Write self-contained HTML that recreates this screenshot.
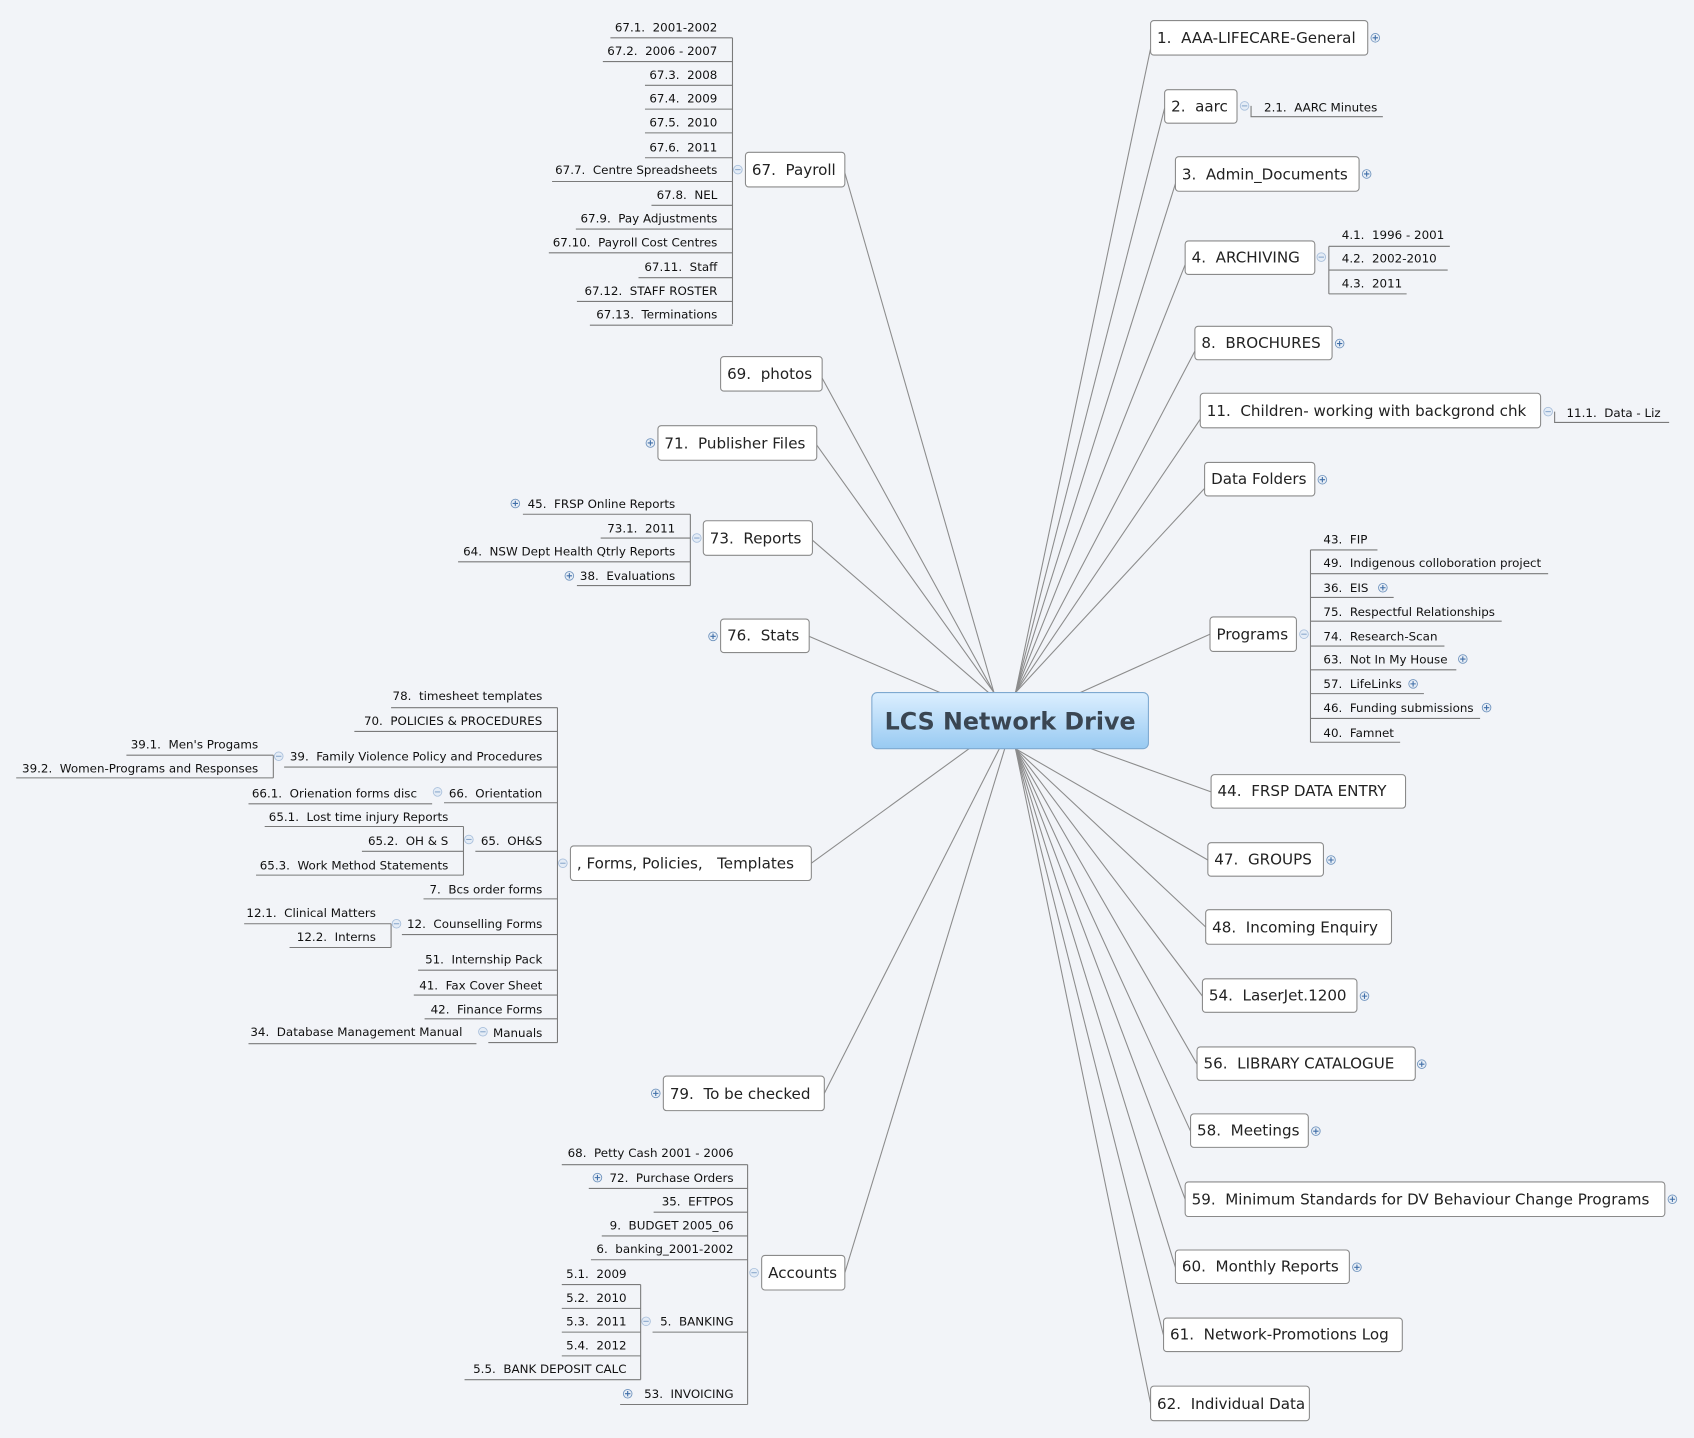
<!DOCTYPE html>
<html><head><meta charset="utf-8"><style>
html,body{margin:0;padding:0;background:#f2f4f8;}
svg{display:block}
text{white-space:pre}
.b{font-family:"DejaVu Sans","Liberation Sans",sans-serif;font-size:14px;fill:#222}
.k{font-family:"DejaVu Sans","Liberation Sans",sans-serif;font-size:11px;fill:#111}
.bx{fill:#fff;stroke:#8a8a8a;stroke-width:1}
.l{stroke:#8c8c8c;stroke-width:1;fill:none}
.u{stroke:#7a7a7a;stroke-width:1;fill:none}
.p circle{fill:#e8eef6;stroke:#6f93bd;stroke-width:.8}
.p path{stroke:#3f6ea8;stroke-width:1}
.m circle{fill:#e4ecf6;stroke:#a8bfdb;stroke-width:.8}
.m path{stroke:#8aa8cc;stroke-width:1}
</style></head><body>
<svg width="1694" height="1438" viewBox="0 0 1568 1331" preserveAspectRatio="none" xmlns="http://www.w3.org/2000/svg" xml:space="preserve">
<defs>
<linearGradient id="g" x1="0" y1="0" x2="0" y2="1"><stop offset="0" stop-color="#dcefff"/><stop offset="1" stop-color="#98caf2"/></linearGradient>
<g id="pl" class="p"><circle r="4"/><path d="M-2.5 0H2.5M0 -2.5V2.5"/></g>
<g id="mi" class="m"><circle r="4"/><path d="M-2.5 0H2.5"/></g>
</defs>
<rect width="1568" height="1331" fill="#f2f4f8"/>
<g class="l">
<path d="M940 641L1065 45"/><path d="M940 641L1078 100"/><path d="M940 641L1088 170"/><path d="M940 641L1097 245"/>
<path d="M940 641L1106 325"/><path d="M940 641L1111 388"/><path d="M940 641L1115 452"/><path d="M1000 641L1120 587"/>
<path d="M1010 693L1121 733"/><path d="M940 693L1118 796"/><path d="M940 693L1116 858"/><path d="M940 693L1113 922"/>
<path d="M940 693L1108 985"/><path d="M940 693L1102 1047"/><path d="M940 693L1097 1110"/><path d="M940 693L1088 1173"/>
<path d="M940 693L1077 1236"/><path d="M940 693L1065 1299"/>
<path d="M920 641L782 160"/><path d="M920 641L761 350"/><path d="M920 641L756 412"/><path d="M915 641L752 500"/>
<path d="M870 641L749 589"/><path d="M897 693L751 799"/><path d="M925 693L763 1012"/><path d="M930 693L782 1178"/>
</g>
<rect x="807" y="641" width="256" height="52" rx="5" fill="url(#g)" stroke="#7ea9d0"/>
<text x="935" y="675" text-anchor="middle" font-family="DejaVu Sans,Liberation Sans,sans-serif" font-weight="bold" font-size="22" fill="#3a4652">LCS Network Drive</text>

<rect class="bx" x="1065" y="19" width="201" height="32" rx="3"/><text class="b" x="1071" y="40">1.  AAA-LIFECARE-General</text><use href="#pl" x="1273" y="35"/>
<rect class="bx" x="1078" y="83" width="67" height="31" rx="3"/><text class="b" x="1084" y="103">2.  aarc</text><use href="#mi" x="1152" y="98"/>
<path class="u" d="M1158 98V108H1280"/><text class="k" x="1170" y="103">2.1.  AARC Minutes</text>
<rect class="bx" x="1088" y="145" width="170" height="32" rx="3"/><text class="b" x="1094" y="166">3.  Admin_Documents</text><use href="#pl" x="1265" y="161"/>
<rect class="bx" x="1097" y="223" width="120" height="31" rx="3"/><text class="b" x="1103" y="243">4.  ARCHIVING</text><use href="#mi" x="1223" y="238"/>
<path class="u" d="M1230 228V272M1230 228H1342M1230 250H1340M1230 272H1302"/>
<text class="k" x="1242" y="221">4.1.  1996 - 2001</text><text class="k" x="1242" y="243">4.2.  2002-2010</text><text class="k" x="1242" y="266">4.3.  2011</text>
<rect class="bx" x="1106" y="302" width="127" height="31" rx="3"/><text class="b" x="1112" y="322">8.  BROCHURES</text><use href="#pl" x="1240" y="318"/>
<rect class="bx" x="1111" y="364" width="315" height="32" rx="3"/><text class="b" x="1117" y="385">11.  Children- working with backgrond chk</text><use href="#mi" x="1433" y="381"/>
<path class="u" d="M1439 381V391H1545"/><text class="k" x="1450" y="386">11.1.  Data - Liz</text>
<rect class="bx" x="1115" y="428" width="102" height="31" rx="3"/><text class="b" x="1121" y="448">Data Folders</text><use href="#pl" x="1224" y="444"/>
<rect class="bx" x="1120" y="571" width="80" height="32" rx="3"/><text class="b" x="1126" y="592">Programs</text><use href="#mi" x="1207" y="587"/>
<path class="u" d="M1213 509V687M1213 509H1275M1213 531H1433M1213 553H1290M1213 575H1390M1213 598H1337M1213 620H1348M1213 642H1318M1213 665H1370M1213 687H1296"/>
<text class="k" x="1225" y="503">43.  FIP</text><text class="k" x="1225" y="525">49.  Indigenous colloboration project</text>
<text class="k" x="1225" y="548">36.  EIS</text><use href="#pl" x="1280" y="544"/>
<text class="k" x="1225" y="570">75.  Respectful Relationships</text><text class="k" x="1225" y="593">74.  Research-Scan</text>
<text class="k" x="1225" y="614">63.  Not In My House</text><use href="#pl" x="1354" y="610"/>
<text class="k" x="1225" y="637">57.  LifeLinks</text><use href="#pl" x="1308" y="633"/>
<text class="k" x="1225" y="659">46.  Funding submissions</text><use href="#pl" x="1376" y="655"/>
<text class="k" x="1225" y="682">40.  Famnet</text>
<rect class="bx" x="1121" y="717" width="180" height="31" rx="3"/><text class="b" x="1127" y="737">44.  FRSP DATA ENTRY</text>
<rect class="bx" x="1118" y="780" width="107" height="31" rx="3"/><text class="b" x="1124" y="800">47.  GROUPS</text><use href="#pl" x="1232" y="796"/>
<rect class="bx" x="1116" y="842" width="172" height="32" rx="3"/><text class="b" x="1122" y="863">48.  Incoming Enquiry</text>
<rect class="bx" x="1113" y="906" width="143" height="31" rx="3"/><text class="b" x="1119" y="926">54.  LaserJet.1200</text><use href="#pl" x="1263" y="922"/>
<rect class="bx" x="1108" y="969" width="202" height="31" rx="3"/><text class="b" x="1114" y="989">56.  LIBRARY CATALOGUE</text><use href="#pl" x="1316" y="985"/>
<rect class="bx" x="1102" y="1031" width="109" height="31" rx="3"/><text class="b" x="1108" y="1051">58.  Meetings</text><use href="#pl" x="1218" y="1047"/>
<rect class="bx" x="1097" y="1094" width="444" height="32" rx="3"/><text class="b" x="1103" y="1115">59.  Minimum Standards for DV Behaviour Change Programs</text><use href="#pl" x="1548" y="1110"/>
<rect class="bx" x="1088" y="1157" width="161" height="31" rx="3"/><text class="b" x="1094" y="1177">60.  Monthly Reports</text><use href="#pl" x="1256" y="1173"/>
<rect class="bx" x="1077" y="1220" width="221" height="31" rx="3"/><text class="b" x="1083" y="1240">61.  Network-Promotions Log</text>
<rect class="bx" x="1065" y="1283" width="147" height="32" rx="3"/><text class="b" x="1071" y="1304">62.  Individual Data</text>

<rect class="bx" x="690" y="141" width="92" height="32" rx="3"/><text class="b" x="696" y="162">67.  Payroll</text><use href="#mi" x="683" y="157"/>
<path class="u" d="M678 35V300M565 35H678M558 57H678M597 79H678M597 101H678M597 123H678M597 146H678M511 168H678M603 190H678M533 212H678M508 234H678M591 257H678M534 279H678M546 301H678"/>
<g class="k" text-anchor="end">
<text x="664" y="29">67.1.  2001-2002</text><text x="664" y="51">67.2.  2006 - 2007</text><text x="664" y="73">67.3.  2008</text>
<text x="664" y="95">67.4.  2009</text><text x="664" y="117">67.5.  2010</text><text x="664" y="140">67.6.  2011</text>
<text x="664" y="161">67.7.  Centre Spreadsheets</text><text x="664" y="184">67.8.  NEL</text><text x="664" y="206">67.9.  Pay Adjustments</text>
<text x="664" y="228">67.10.  Payroll Cost Centres</text><text x="664" y="251">67.11.  Staff</text><text x="664" y="273">67.12.  STAFF ROSTER</text>
<text x="664" y="295">67.13.  Terminations</text>
</g>
<rect class="bx" x="667" y="330" width="94" height="32" rx="3"/><text class="b" x="673" y="351">69.  photos</text>
<rect class="bx" x="609" y="394" width="147" height="32" rx="3"/><text class="b" x="615" y="415">71.  Publisher Files</text><use href="#pl" x="602" y="410"/>
<rect class="bx" x="651" y="482" width="101" height="32" rx="3"/><text class="b" x="657" y="503">73.  Reports</text><use href="#mi" x="645" y="498"/>
<path class="u" d="M639 476V542M484 476H639M556 498H639M424 520H639M534 542H639"/>
<g class="k" text-anchor="end"><text x="625" y="470">45.  FRSP Online Reports</text><text x="625" y="493">73.1.  2011</text>
<text x="625" y="514">64.  NSW Dept Health Qtrly Reports</text><text x="625" y="537">38.  Evaluations</text></g>
<use href="#pl" x="477" y="466"/><use href="#pl" x="527" y="533"/>
<rect class="bx" x="667" y="573" width="82" height="31" rx="3"/><text class="b" x="673" y="593">76.  Stats</text><use href="#pl" x="660" y="589"/>

<rect class="bx" x="528" y="783" width="223" height="32" rx="3"/><text class="b" x="534" y="804">, Forms, Policies,   Templates</text><use href="#mi" x="521" y="799"/>
<path class="u" d="M516 655V965M362 655H516M328 677H516M263 710H516M411 743H516M440 788H516M392 832H516M372 865H516M387 898H516M383 921H516M393 943H516M452 965H516"/>
<g class="k" text-anchor="end">
<text x="502" y="648">78.  timesheet templates</text><text x="502" y="671">70.  POLICIES &amp; PROCEDURES</text>
<text x="502" y="704">39.  Family Violence Policy and Procedures</text><text x="502" y="738">66.  Orientation</text>
<text x="502" y="782">65.  OH&amp;S</text><text x="502" y="827">7.  Bcs order forms</text>
<text x="502" y="859">12.  Counselling Forms</text><text x="502" y="892">51.  Internship Pack</text>
<text x="502" y="916">41.  Fax Cover Sheet</text><text x="502" y="938">42.  Finance Forms</text><text x="502" y="960">Manuals</text>
</g>
<use href="#mi" x="258" y="700"/><use href="#mi" x="405" y="733"/><use href="#mi" x="434" y="777"/><use href="#mi" x="367" y="855"/><use href="#mi" x="447" y="955"/>
<path class="u" d="M253 699V720M117 699H253M15 720H253M230 744H400M429 765V810M245 765H429M335 788H429M237 810H429M362 855V877M226 855H362M268 877H362M230 966H441"/>
<g class="k" text-anchor="end">
<text x="239" y="693">39.1.  Men's Progams</text><text x="239" y="715">39.2.  Women-Programs and Responses</text>
<text x="386" y="738">66.1.  Orienation forms disc</text>
<text x="415" y="760">65.1.  Lost time injury Reports</text><text x="415" y="782">65.2.  OH &amp; S</text><text x="415" y="805">65.3.  Work Method Statements</text>
<text x="348" y="849">12.1.  Clinical Matters</text><text x="348" y="871">12.2.  Interns</text>
<text x="428" y="959">34.  Database Management Manual</text>
</g>
<rect class="bx" x="614" y="996" width="149" height="32" rx="3"/><text class="b" x="620" y="1017">79.  To be checked</text><use href="#pl" x="607" y="1012"/>

<rect class="bx" x="705" y="1162" width="77" height="32" rx="3"/><text class="b" x="711" y="1183">Accounts</text><use href="#mi" x="698" y="1178"/>
<path class="u" d="M692 1078V1300M520 1078H692M545 1100H692M605 1122H692M557 1144H692M547 1166H692M604 1233H692M574 1300H692"/>
<g class="k" text-anchor="end">
<text x="679" y="1071">68.  Petty Cash 2001 - 2006</text><text x="679" y="1094">72.  Purchase Orders</text>
<text x="679" y="1116">35.  EFTPOS</text><text x="679" y="1138">9.  BUDGET 2005_06</text><text x="679" y="1160">6.  banking_2001-2002</text>
<text x="679" y="1227">5.  BANKING</text><text x="679" y="1294">53.  INVOICING</text>
</g>
<use href="#pl" x="553" y="1090"/><use href="#pl" x="581" y="1290"/><use href="#mi" x="598" y="1223"/>
<path class="u" d="M593 1189V1277M520 1189H593M520 1211H593M520 1233H593M520 1255H593M430 1277H593"/>
<g class="k" text-anchor="end">
<text x="580" y="1183">5.1.  2009</text><text x="580" y="1205">5.2.  2010</text><text x="580" y="1227">5.3.  2011</text>
<text x="580" y="1249">5.4.  2012</text><text x="580" y="1271">5.5.  BANK DEPOSIT CALC</text>
</g>
</svg>
</body></html>
